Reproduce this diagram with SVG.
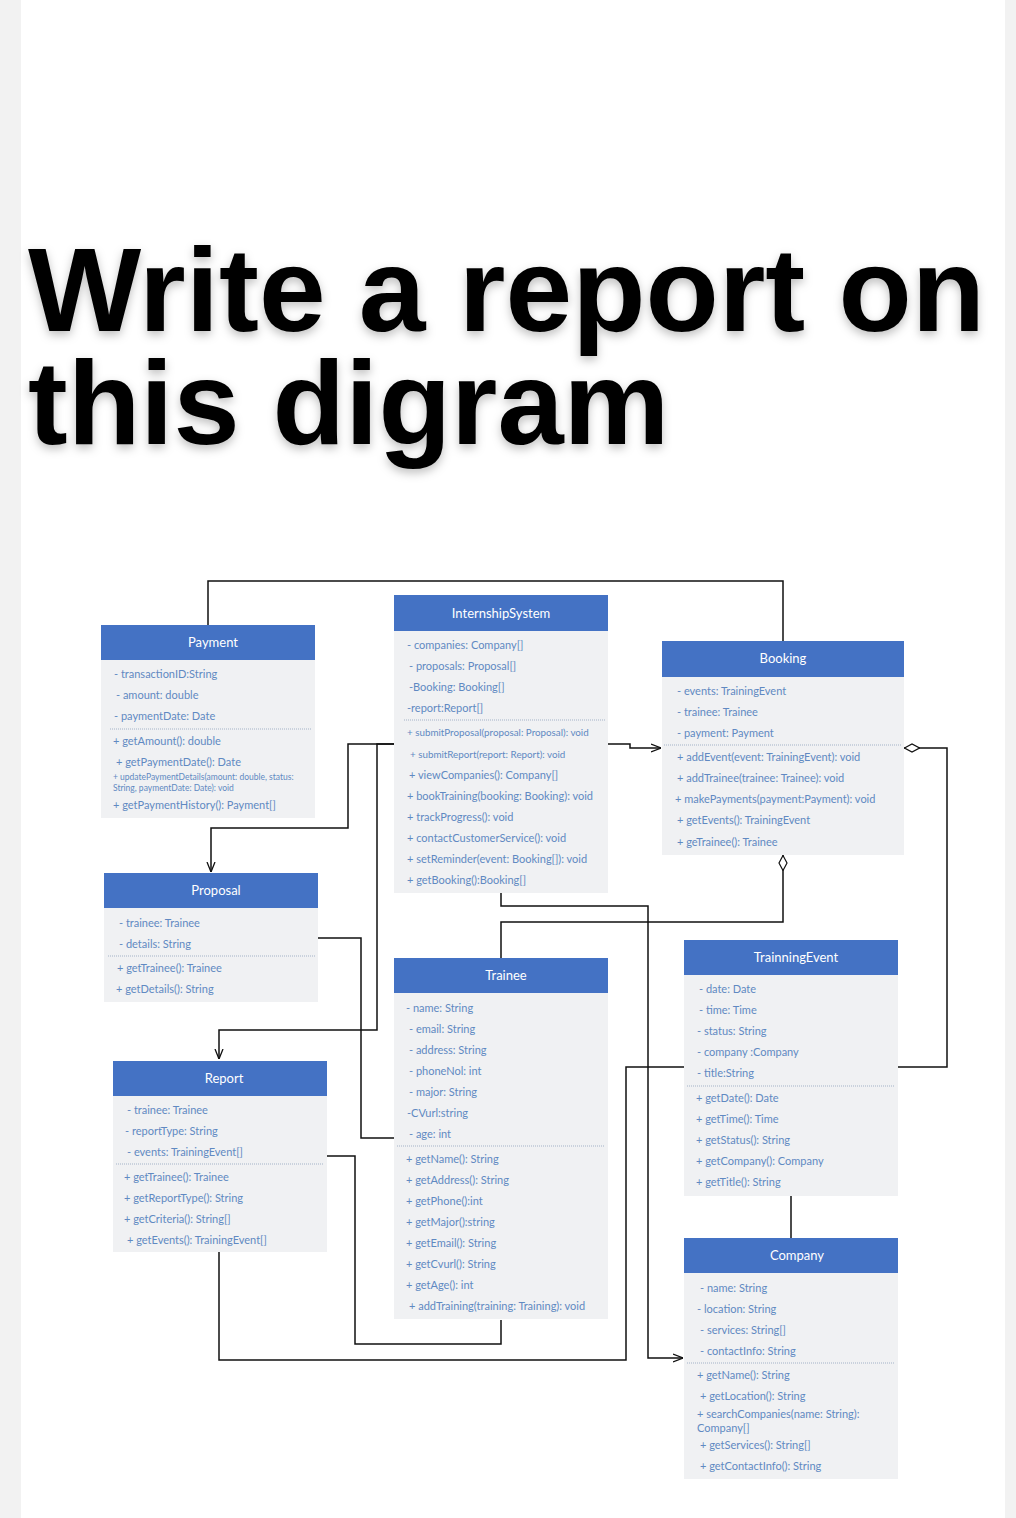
<svg xmlns="http://www.w3.org/2000/svg" width="1016" height="1518" viewBox="0 0 1016 1518">
<defs>
<style>
.hdr{fill:#4472C4}
.bd{fill:#F0F1F3}
.ht{font-family:Lato,"Open Sans",sans-serif;font-size:13px;fill:#ffffff;text-anchor:middle}
.t{font-family:Lato,"Open Sans",sans-serif;font-size:11px;fill:#6089C2}
.s{font-size:9.8px}
.xs{font-size:8.5px}
.sep{stroke:#A3B2C7;stroke-width:1;stroke-dasharray:1 1;fill:none}
.c{fill:none;stroke:#111111;stroke-width:1.5}
.title{font-family:"Liberation Sans",Arial,sans-serif;font-weight:bold;font-size:119px;fill:#000000}
</style>
<filter id="sh" x="-5%" y="-20%" width="110%" height="150%">
<feDropShadow dx="0" dy="4" stdDeviation="5" flood-color="#000000" flood-opacity="0.25"/>
</filter>
<marker id="arr" viewBox="0 0 10 10" refX="10" refY="5" markerWidth="10" markerHeight="10" markerUnits="userSpaceOnUse" orient="auto">
<path d="M0,1 L10,5 L0,9" fill="none" stroke="#111111" stroke-width="1.3"/>
</marker>
<marker id="dia" viewBox="0 0 16 10" refX="0" refY="5" markerWidth="16" markerHeight="10" markerUnits="userSpaceOnUse" orient="auto">
<path d="M0.5,5 L8,1 L15.5,5 L8,9 Z" fill="#ffffff" stroke="#111111" stroke-width="1.2"/>
</marker>
</defs>
<rect x="0" y="0" width="1016" height="1518" fill="#F2F2F2"/>
<rect x="21" y="0" width="984" height="1518" fill="#FFFFFF"/>
<g id="title" filter="url(#sh)">
<text class="title"><tspan x="28" y="331" textLength="957" lengthAdjust="spacingAndGlyphs">Write a report on</tspan><tspan x="28" y="444">this digram</tspan></text>
</g>
<g id="connectors">
<path class="c" d="M208,625 V581 H783 V641"/>
<path class="c" d="M608,744 H630 V748 H661" marker-end="url(#arr)"/>
<path class="c" d="M394,744 H348 V828 H211 V872" marker-end="url(#arr)"/>
<path class="c" d="M394,744 H377 V1030 H219 V1059" marker-end="url(#arr)"/>
<path class="c" d="M318,938 H361 V1138 H394"/>
<path class="c" d="M501,893 V906 H648 V1358 H683" marker-end="url(#arr)"/>
<path class="c" d="M783,855 V922 H501 V958" marker-start="url(#dia)"/>
<path class="c" d="M904,748 H947 V1067 H898" marker-start="url(#dia)"/>
<path class="c" d="M684,1067 H626 V1360 H219 V1252"/>
<path class="c" d="M327,1156 H355 V1344 H501 V1320"/>
<path class="c" d="M791,1196 V1238"/>
</g>
<g id="Payment">
<rect class="bd" x="101" y="659" width="214" height="159"/>
<rect class="hdr" x="101" y="625" width="214" height="35"/>
<text class="ht" x="213" y="647">Payment</text>
<text class="t" x="114" y="678">- transactionID:String</text>
<text class="t" x="116" y="699">- amount: double</text>
<text class="t" x="114" y="720">- paymentDate: Date</text>
<line class="sep" x1="110" y1="729" x2="312" y2="729"/>
<text class="t" x="113" y="745">+ getAmount(): double</text>
<text class="t" x="116" y="766">+ getPaymentDate(): Date</text>
<text class="t xs" x="113" y="780">+ updatePaymentDetails(amount: double, status:</text>
<text class="t xs" x="113" y="791">String, paymentDate: Date): void</text>
<text class="t" x="113" y="809">+ getPaymentHistory(): Payment[]</text>
</g>
<g id="InternshipSystem">
<rect class="bd" x="394" y="630" width="214" height="263"/>
<rect class="hdr" x="394" y="595" width="214" height="36"/>
<text class="ht" x="501" y="618">InternshipSystem</text>
<text class="t" x="407" y="649">- companies: Company[]</text>
<text class="t" x="409" y="670">- proposals: Proposal[]</text>
<text class="t" x="409" y="691">-Booking: Booking[]</text>
<text class="t" x="407" y="712">-report:Report[]</text>
<line class="sep" x1="404" y1="720" x2="605" y2="720"/>
<text class="t s" x="407" y="736">+ submitProposal(proposal: Proposal): void</text>
<text class="t s" x="410" y="758">+ submitReport(report: Report): void</text>
<text class="t" x="409" y="779">+ viewCompanies(): Company[]</text>
<text class="t" x="407" y="800">+ bookTraining(booking: Booking): void</text>
<text class="t" x="407" y="821">+ trackProgress(): void</text>
<text class="t" x="407" y="842">+ contactCustomerService(): void</text>
<text class="t" x="407" y="863">+ setReminder(event: Booking[]): void</text>
<text class="t" x="407" y="884">+ getBooking():Booking[]</text>
</g>
<g id="Booking">
<rect class="bd" x="662" y="676" width="242" height="179"/>
<rect class="hdr" x="662" y="641" width="242" height="36"/>
<text class="ht" x="783" y="663">Booking</text>
<text class="t" x="677" y="695">- events: TrainingEvent</text>
<text class="t" x="677" y="716">- trainee: Trainee</text>
<text class="t" x="677" y="737">- payment: Payment</text>
<line class="sep" x1="664" y1="745" x2="902" y2="745"/>
<text class="t" x="677" y="761">+ addEvent(event: TrainingEvent): void</text>
<text class="t" x="677" y="782">+ addTrainee(trainee: Trainee): void</text>
<text class="t" x="675" y="803">+ makePayments(payment:Payment): void</text>
<text class="t" x="677" y="824">+ getEvents(): TrainingEvent</text>
<text class="t" x="677" y="846">+ geTrainee(): Trainee</text>
</g>
<g id="Proposal">
<rect class="bd" x="104" y="907" width="214" height="95"/>
<rect class="hdr" x="104" y="873" width="214" height="35"/>
<text class="ht" x="216" y="895">Proposal</text>
<text class="t" x="119" y="927">- trainee: Trainee</text>
<text class="t" x="119" y="948">- details: String</text>
<line class="sep" x1="108" y1="956" x2="315" y2="956"/>
<text class="t" x="117" y="972">+ getTrainee(): Trainee</text>
<text class="t" x="116" y="993">+ getDetails(): String</text>
</g>
<g id="Trainee">
<rect class="bd" x="394" y="992" width="214" height="327"/>
<rect class="hdr" x="394" y="958" width="214" height="35"/>
<text class="ht" x="506" y="980">Trainee</text>
<text class="t" x="406" y="1012">- name: String</text>
<text class="t" x="409" y="1033">- email: String</text>
<text class="t" x="409" y="1054">- address: String</text>
<text class="t" x="409" y="1075">- phoneNol: int</text>
<text class="t" x="409" y="1096">- major: String</text>
<text class="t" x="407" y="1117">-CVurl:string</text>
<text class="t" x="409" y="1138">- age: int</text>
<line class="sep" x1="397" y1="1146" x2="605" y2="1146"/>
<text class="t" x="406" y="1163">+ getName(): String</text>
<text class="t" x="406" y="1184">+ getAddress(): String</text>
<text class="t" x="406" y="1205">+ getPhone():int</text>
<text class="t" x="406" y="1226">+ getMajor():string</text>
<text class="t" x="406" y="1247">+ getEmail(): String</text>
<text class="t" x="406" y="1268">+ getCvurl(): String</text>
<text class="t" x="406" y="1289">+ getAge(): int</text>
<text class="t" x="409" y="1310">+ addTraining(training: Training): void</text>
</g>
<g id="TrainningEvent">
<rect class="bd" x="684" y="974" width="214" height="222"/>
<rect class="hdr" x="684" y="940" width="214" height="35"/>
<text class="ht" x="796" y="962">TrainningEvent</text>
<text class="t" x="699" y="993">- date: Date</text>
<text class="t" x="699" y="1014">- time: Time</text>
<text class="t" x="697" y="1035">- status: String</text>
<text class="t" x="697" y="1056">- company :Company</text>
<text class="t" x="697" y="1077">- title:String</text>
<line class="sep" x1="687" y1="1086" x2="895" y2="1086"/>
<text class="t" x="696" y="1102">+ getDate(): Date</text>
<text class="t" x="696" y="1123">+ getTime(): Time</text>
<text class="t" x="696" y="1144">+ getStatus(): String</text>
<text class="t" x="696" y="1165">+ getCompany(): Company</text>
<text class="t" x="696" y="1186">+ getTitle(): String</text>
</g>
<g id="Report">
<rect class="bd" x="113" y="1095" width="214" height="157"/>
<rect class="hdr" x="113" y="1061" width="214" height="35"/>
<text class="ht" x="224" y="1083">Report</text>
<text class="t" x="127" y="1114">- trainee: Trainee</text>
<text class="t" x="125" y="1135">- reportType: String</text>
<text class="t" x="127" y="1156">- events: TrainingEvent[]</text>
<line class="sep" x1="116" y1="1164" x2="324" y2="1164"/>
<text class="t" x="124" y="1181">+ getTrainee(): Trainee</text>
<text class="t" x="124" y="1202">+ getReportType(): String</text>
<text class="t" x="124" y="1223">+ getCriteria(): String[]</text>
<text class="t" x="127" y="1244">+ getEvents(): TrainingEvent[]</text>
</g>
<g id="Company">
<rect class="bd" x="684" y="1272" width="214" height="207"/>
<rect class="hdr" x="684" y="1238" width="214" height="35"/>
<text class="ht" x="797" y="1260">Company</text>
<text class="t" x="700" y="1292">- name: String</text>
<text class="t" x="697" y="1313">- location: String</text>
<text class="t" x="700" y="1334">- services: String[]</text>
<text class="t" x="700" y="1355">- contactInfo: String</text>
<line class="sep" x1="687" y1="1363" x2="895" y2="1363"/>
<text class="t" x="697" y="1379">+ getName(): String</text>
<text class="t" x="700" y="1400">+ getLocation(): String</text>
<text class="t" x="697" y="1418">+ searchCompanies(name: String):</text>
<text class="t" x="697" y="1432">Company[]</text>
<text class="t" x="700" y="1449">+ getServices(): String[]</text>
<text class="t" x="700" y="1470">+ getContactInfo(): String</text>
</g>
</svg>
